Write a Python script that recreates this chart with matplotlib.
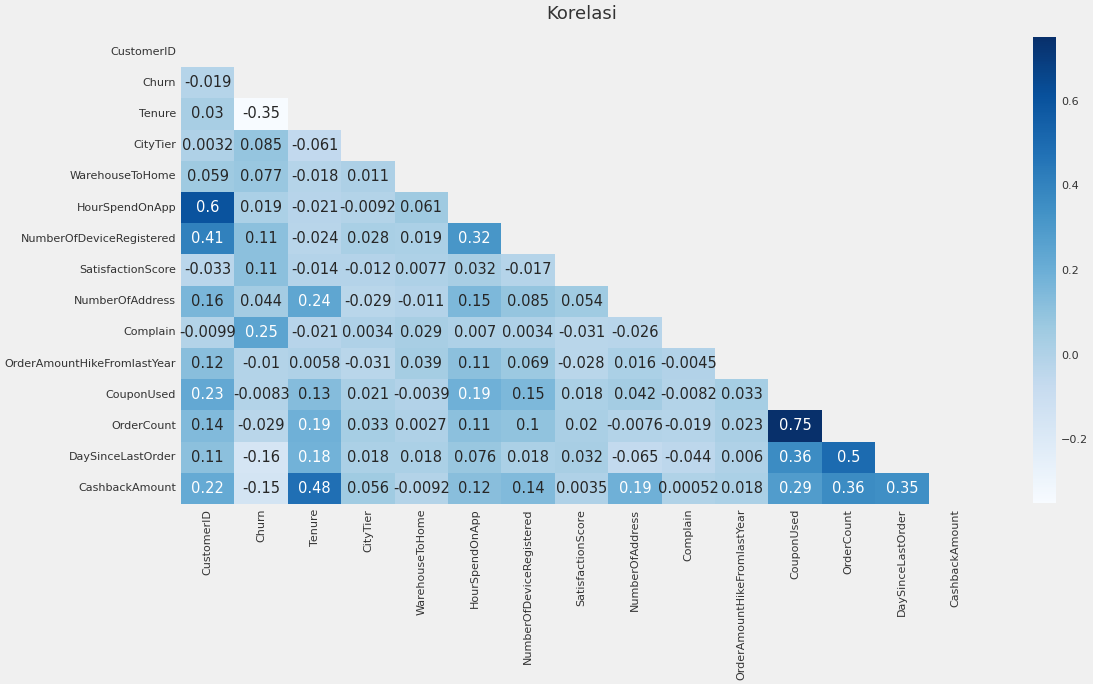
import numpy as np
import pandas as pd
import matplotlib
matplotlib.use('Agg')
import matplotlib.pyplot as plt
import seaborn as sns

plt.style.use('fivethirtyeight')

columns = ['CustomerID', 'Churn', 'Tenure', 'CityTier', 'WarehouseToHome',
           'HourSpendOnApp', 'NumberOfDeviceRegistered', 'SatisfactionScore',
           'NumberOfAddress', 'Complain', 'OrderAmountHikeFromlastYear',
           'CouponUsed', 'OrderCount', 'DaySinceLastOrder', 'CashbackAmount']

# lower triangle of the correlation matrix, row by row (below diagonal)
lower_rows = [
    [],
    [-0.019],
    [0.03, -0.35],
    [0.0032, 0.085, -0.061],
    [0.059, 0.077, -0.018, 0.011],
    [0.6, 0.019, -0.021, -0.0092, 0.061],
    [0.41, 0.11, -0.024, 0.028, 0.019, 0.32],
    [-0.033, 0.11, -0.014, -0.012, 0.0077, 0.032, -0.017],
    [0.16, 0.044, 0.24, -0.029, -0.011, 0.15, 0.085, 0.054],
    [-0.0099, 0.25, -0.021, 0.0034, 0.029, 0.007, 0.0034, -0.031, -0.026],
    [0.12, -0.01, 0.0058, -0.031, 0.039, 0.11, 0.069, -0.028, 0.016, -0.0045],
    [0.23, -0.0083, 0.13, 0.021, -0.0039, 0.19, 0.15, 0.018, 0.042, -0.0082, 0.033],
    [0.14, -0.029, 0.19, 0.033, 0.0027, 0.11, 0.1, 0.02, -0.0076, -0.019, 0.023, 0.75],
    [0.11, -0.16, 0.18, 0.018, 0.018, 0.076, 0.018, 0.032, -0.065, -0.044, 0.006, 0.36, 0.5],
    [0.22, -0.15, 0.48, 0.056, -0.0092, 0.12, 0.14, 0.0035, 0.19, 0.00052, 0.018, 0.29, 0.36, 0.35],
]

n = len(columns)
corr = np.eye(n)
for i, row in enumerate(lower_rows):
    for j, v in enumerate(row):
        corr[i, j] = v
        corr[j, i] = v
corr = pd.DataFrame(corr, index=columns, columns=columns)
mask = np.triu(np.ones_like(corr, dtype=bool))

fig = plt.figure(figsize=(10.93, 6.84), dpi=100)
ax = fig.add_axes([181 / 1093, 1 - 504 / 684, 801 / 1093, 468 / 684])
cax = fig.add_axes([1033 / 1093, 1 - 503 / 684, 23 / 1093, 466 / 684])

sns.heatmap(corr, mask=mask, cmap='Blues', annot=True, ax=ax, cbar_ax=cax,
            annot_kws={'fontsize': 10.5})
ax.grid(False)
ax.tick_params(axis='both', labelsize=8, length=0, labelcolor='#333333')
ax.set_xticklabels(columns, rotation=90)
ax.set_yticklabels(columns, rotation=0)
cax.tick_params(labelsize=8, length=0, labelcolor='#333333')
cax.grid(False)
ax.set_title('Korelasi', fontsize=13, pad=12, color='#333333')

plt.savefig('out.png', dpi=100)
